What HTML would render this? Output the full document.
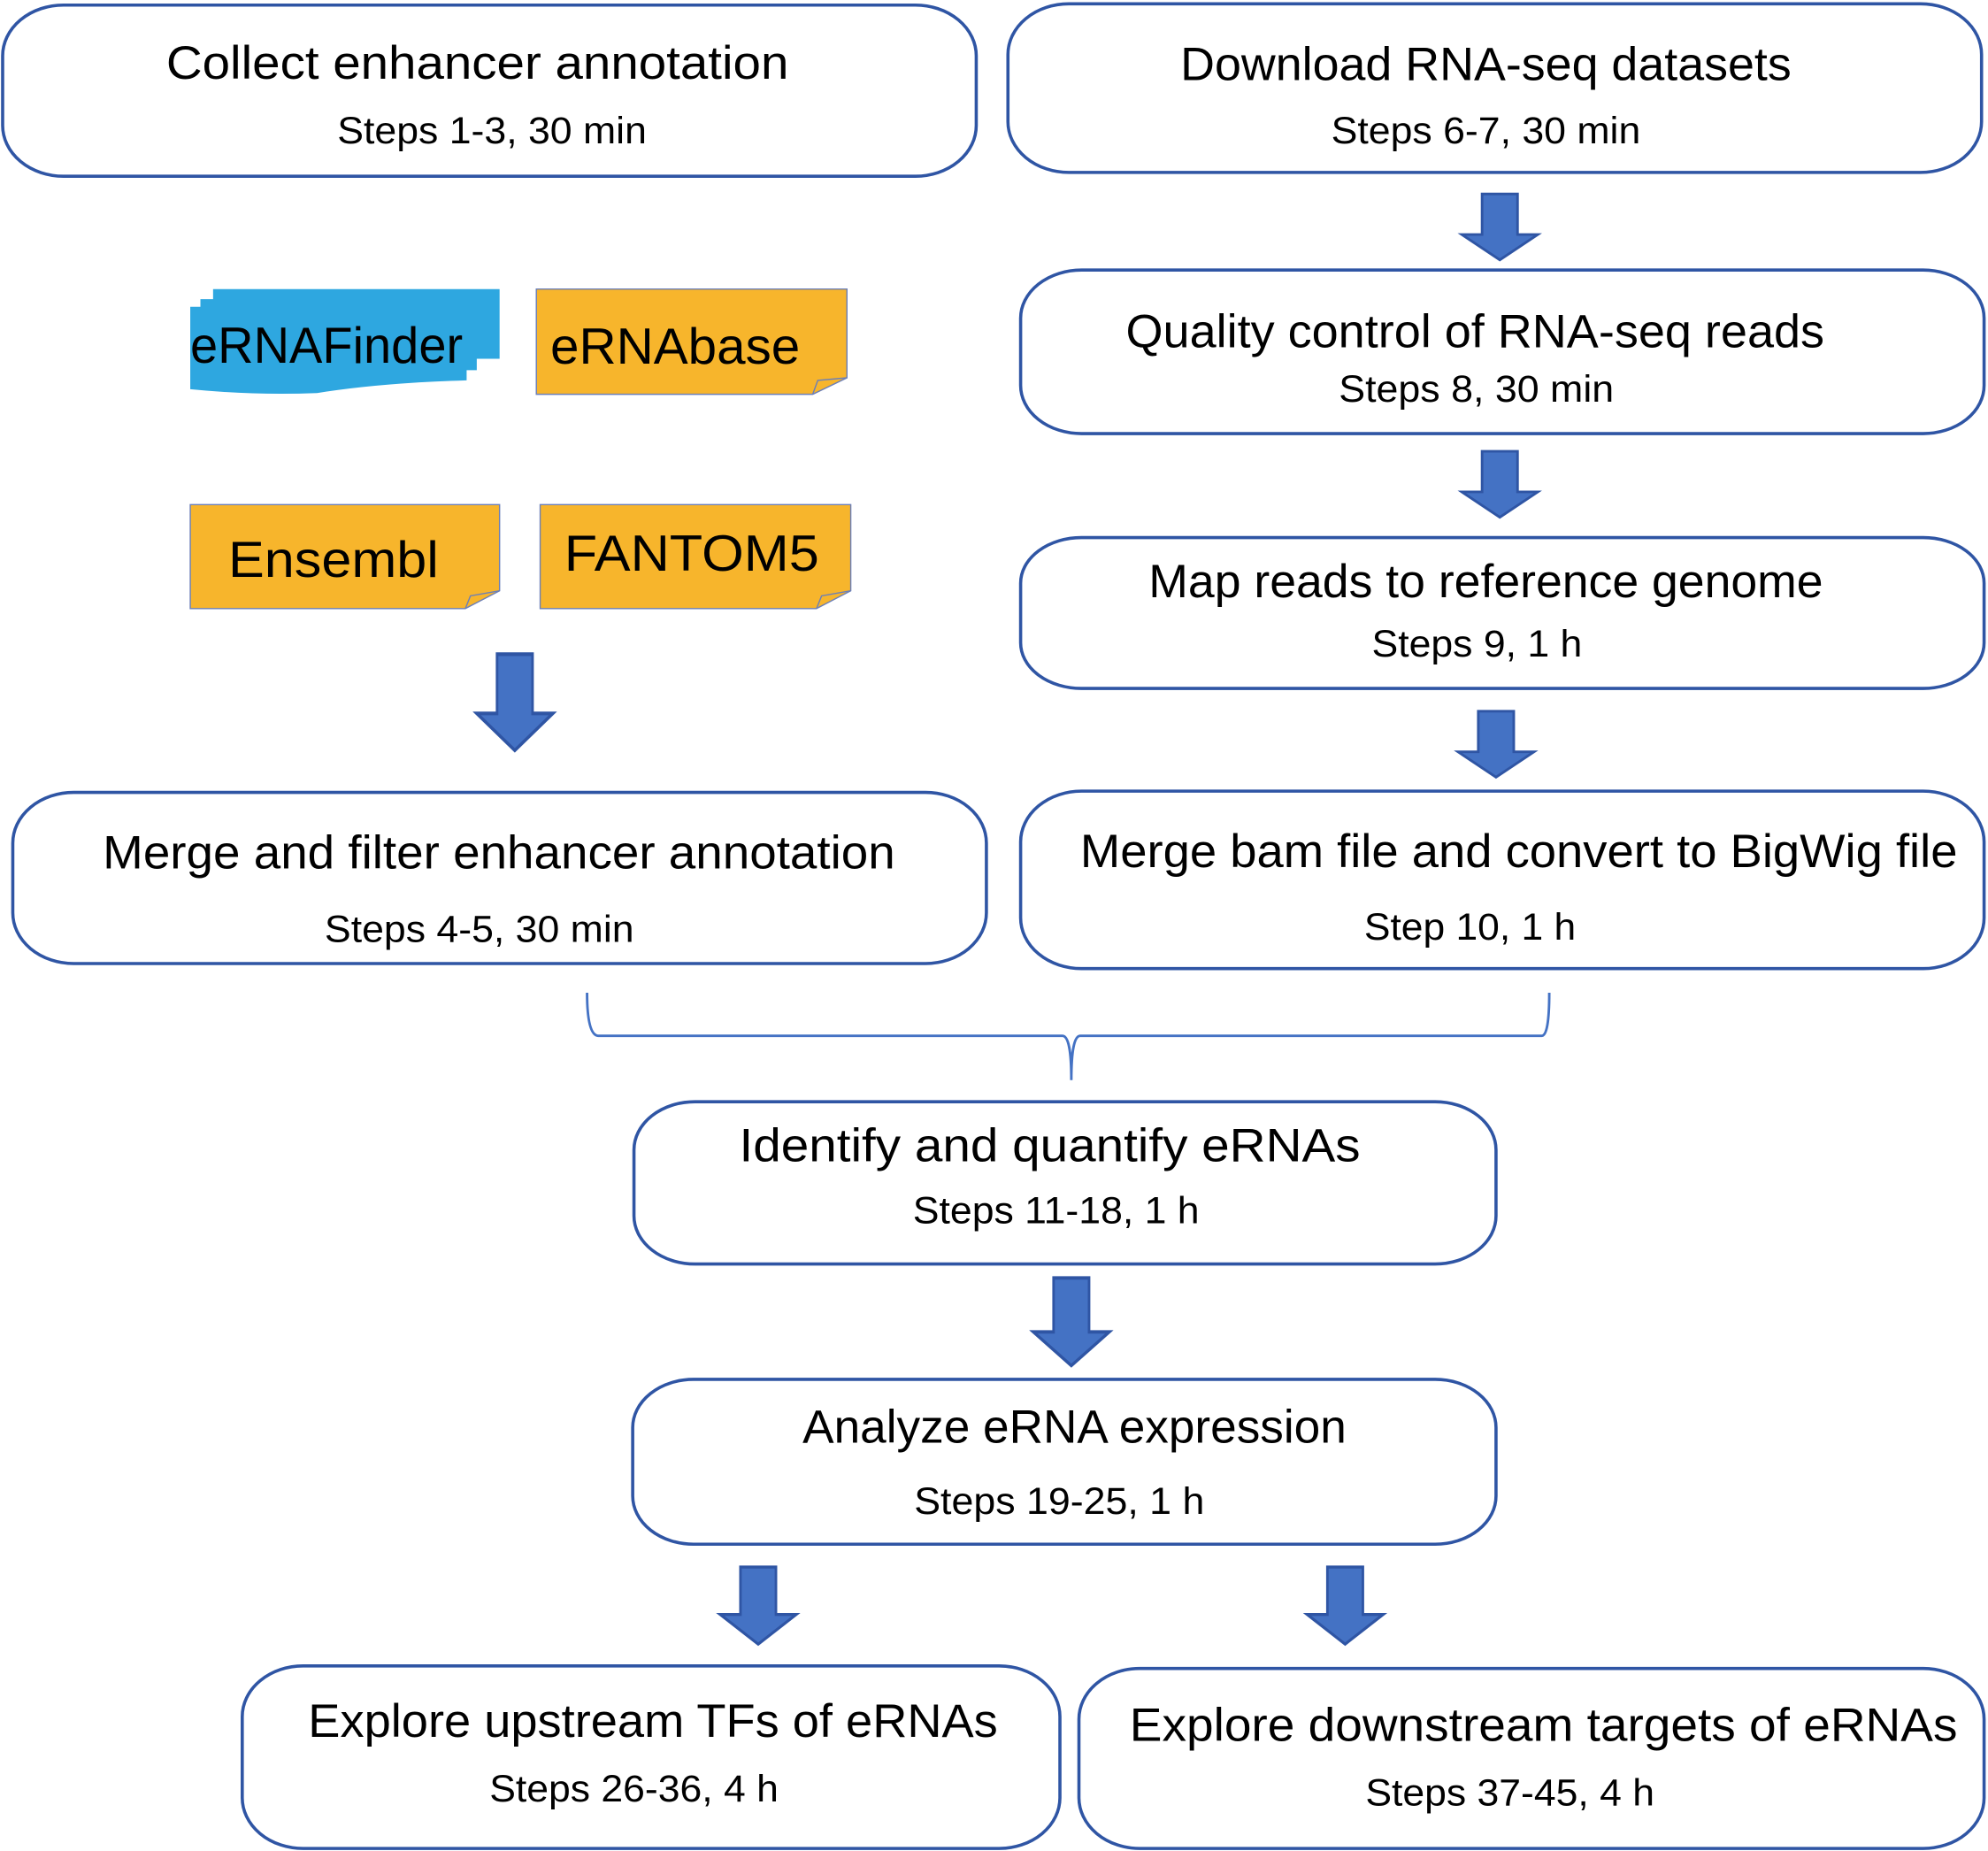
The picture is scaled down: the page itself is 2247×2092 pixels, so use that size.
<!DOCTYPE html>
<html><head><meta charset="utf-8"><style>html,body{margin:0;padding:0;background:#fff}svg{display:block}</style></head>
<body>
<svg xmlns="http://www.w3.org/2000/svg" width="2247" height="2092" viewBox="0 0 1568 1460">
<defs>
<g id="arr"><path d="M-14,0 H14 V32 H30 L0,52 L-30,32 H-14 Z" fill="#4472c4" stroke="#2f55a4" stroke-width="2"/></g>
</defs>
<g fill="#fff" stroke="#2f55a4" stroke-width="2.5">
<rect x="2" y="4" width="768" height="135" rx="48" ry="40"/>
<rect x="795" y="3" width="768" height="133" rx="48" ry="40"/>
<rect x="805" y="213" width="760" height="129" rx="48" ry="38"/>
<rect x="805" y="424" width="760" height="119" rx="48" ry="36"/>
<rect x="805" y="624" width="760" height="140" rx="48" ry="40"/>
<rect x="10" y="625" width="768" height="135" rx="48" ry="40"/>
<rect x="500" y="869" width="680" height="128" rx="48" ry="38"/>
<rect x="499" y="1088" width="681" height="130" rx="48" ry="38"/>
<rect x="191" y="1314" width="645" height="144" rx="48" ry="40"/>
<rect x="851" y="1316" width="714" height="142" rx="48" ry="40"/>
</g>
<use href="#arr" x="1183" y="153"/>
<use href="#arr" x="1183" y="356"/>
<use href="#arr" x="1180" y="561"/>
<g transform="translate(406,516) scale(1,1.46)"><use href="#arr"/></g>
<g transform="translate(845,1008) scale(1,1.33)"><use href="#arr"/></g>
<g transform="translate(598,1236) scale(1,1.17)"><use href="#arr"/></g>
<g transform="translate(1061,1236) scale(1,1.17)"><use href="#arr"/></g>
<path d="M463,783 Q463,817 472,817 H838 Q845,817 845,852 Q845,817 852,817 H1216 Q1222,817 1222,783" fill="none" stroke="#4472c4" stroke-width="2"/>
<path d="M150,242 H158 V236 H168 V228 H394 V283 H376 V292 H368 V300 Q300,302 250,310 Q200,312 150,307 Z" fill="#2ea7e0"/>
<path d="M423,228 H668 V298 L641,311 H423 Z" fill="#f7b52c" stroke="#6b7fb8" stroke-width="1"/>
<path d="M641,311 L645,300 L668,298" fill="none" stroke="#6b7fb8" stroke-width="1"/>
<path d="M150,398 H394 V466 L367,480 H150 Z" fill="#f7b52c" stroke="#6b7fb8" stroke-width="1"/>
<path d="M367,480 L371,470 L394,466" fill="none" stroke="#6b7fb8" stroke-width="1"/>
<path d="M426,398 H671 V466 L644,480 H426 Z" fill="#f7b52c" stroke="#6b7fb8" stroke-width="1"/>
<path d="M644,480 L648,470 L671,466" fill="none" stroke="#6b7fb8" stroke-width="1"/>
<g font-family="Liberation Sans, Arial, sans-serif" fill="#000" lengthAdjust="spacingAndGlyphs">
<g font-size="40">
<text x="150" y="286" textLength="215" lengthAdjust="spacingAndGlyphs">eRNAFinder</text>
<text x="434" y="287" textLength="197" lengthAdjust="spacingAndGlyphs">eRNAbase</text>
<text x="180" y="455" textLength="166" lengthAdjust="spacingAndGlyphs">Ensembl</text>
<text x="445" y="450" textLength="201" lengthAdjust="spacingAndGlyphs">FANTOM5</text>
</g>
<g font-size="37">
<text x="131" y="62" textLength="491" lengthAdjust="spacingAndGlyphs">Collect enhancer annotation</text>
<text x="931" y="63" textLength="482" lengthAdjust="spacingAndGlyphs">Download RNA-seq datasets</text>
<text x="888" y="274" textLength="551" lengthAdjust="spacingAndGlyphs">Quality control of RNA-seq reads</text>
<text x="906" y="471" textLength="532" lengthAdjust="spacingAndGlyphs">Map reads to reference genome</text>
<text x="852" y="684" textLength="692" lengthAdjust="spacingAndGlyphs">Merge bam file and convert to BigWig file</text>
<text x="81" y="685" textLength="625" lengthAdjust="spacingAndGlyphs">Merge and filter enhancer annotation</text>
<text x="583" y="916" textLength="490" lengthAdjust="spacingAndGlyphs">Identify and quantify eRNAs</text>
<text x="633" y="1138" textLength="429" lengthAdjust="spacingAndGlyphs">Analyze eRNA expression</text>
<text x="243" y="1370" textLength="544" lengthAdjust="spacingAndGlyphs">Explore upstream TFs of eRNAs</text>
<text x="891" y="1373" textLength="653" lengthAdjust="spacingAndGlyphs">Explore downstream targets of eRNAs</text>
</g>
<g font-size="30">
<text x="266" y="113" textLength="244" lengthAdjust="spacingAndGlyphs">Steps 1-3, 30 min</text>
<text x="1050" y="113" textLength="244" lengthAdjust="spacingAndGlyphs">Steps 6-7, 30 min</text>
<text x="1056" y="317" textLength="217" lengthAdjust="spacingAndGlyphs">Steps 8, 30 min</text>
<text x="1082" y="518" textLength="166" lengthAdjust="spacingAndGlyphs">Steps 9, 1 h</text>
<text x="1076" y="741" textLength="167" lengthAdjust="spacingAndGlyphs">Step 10, 1 h</text>
<text x="256" y="743" textLength="244" lengthAdjust="spacingAndGlyphs">Steps 4-5, 30 min</text>
<text x="720" y="965" textLength="226" lengthAdjust="spacingAndGlyphs">Steps 11-18, 1 h</text>
<text x="721" y="1194" textLength="229" lengthAdjust="spacingAndGlyphs">Steps 19-25, 1 h</text>
<text x="386" y="1421" textLength="228" lengthAdjust="spacingAndGlyphs">Steps 26-36, 4 h</text>
<text x="1077" y="1424" textLength="228" lengthAdjust="spacingAndGlyphs">Steps 37-45, 4 h</text>
</g>
</g>
</svg>
</body></html>
